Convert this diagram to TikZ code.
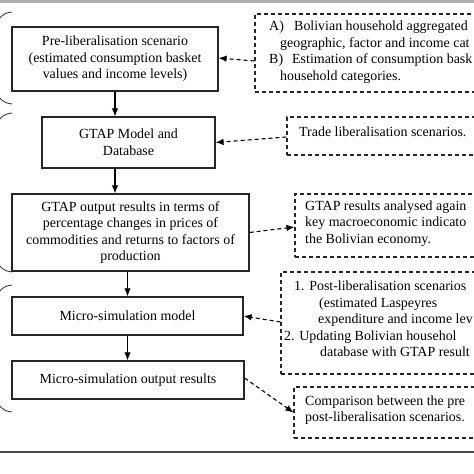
\documentclass[tikz,border=0pt]{standalone}
\usepackage{fontspec}
\setmainfont{Liberation Serif}
\usetikzlibrary{arrows.meta,calc}
\tikzset{
  base/.style={font=\fontsize{14}{16.6}\selectfont},
  solidbox/.style={base, draw=black!85, line width=1.2bp, fill=white, align=center, inner sep=0pt},
  dashbox/.style={draw=black!85, line width=1.1bp, dash pattern=on 4bp off 3bp, inner sep=0pt},
  txt/.style={base, align=left, inner sep=0pt, anchor=west},
  flow/.style={draw=black, line width=1.1bp, -{Latex[length=8bp,width=6.5bp]}},
  dflow/.style={flow, dash pattern=on 4bp off 3bp},
  bracepart/.style={draw=black!75, line width=0.9bp},
}
\begin{document}
\begin{tikzpicture}[x=1bp,y=-1bp]
\useasboundingbox (0,0) rectangle (474,474);
\clip (0,0) rectangle (474,474);
\fill[white] (0,0) rectangle (474,474);
% frame lines of the crop
\fill[black!32] (0,0) rectangle (474,3);
\draw[black!70, line width=1.6bp] (0,452) -- (474,452);
% brace ends on the left edge
\draw[bracepart] (12,12) .. controls (6,12.5) and (2,15) .. (-1,19);
\draw[bracepart] (12,104) .. controls (6,103.5) and (2,101) .. (-1,97);
\draw[bracepart] (12,113) .. controls (6,113.5) and (2,116) .. (-1,120);
\draw[bracepart] (12,272) .. controls (6,271.5) and (2,269) .. (-1,265);
\draw[bracepart] (12,285) .. controls (6,285.5) and (2,288) .. (-1,292);
\draw[bracepart] (12,412) .. controls (6,411.5) and (2,409) .. (-1,405);
% main flow boxes
\node[solidbox, minimum width=206bp, minimum height=64bp] (b1) at (115,59)
  {Pre-liberalisation scenario\\(estimated consumption basket\\values and income levels)};
\node[solidbox, minimum width=173bp, minimum height=51bp] (b2) at (128.5,142.5)
  {GTAP Model and\\Database};
\node[solidbox, minimum width=237bp, minimum height=77bp] (b3) at (130.5,232.5)
  {GTAP output results in terms of\\percentage changes in prices of\\commodities and returns to factors of\\production};
\node[solidbox, minimum width=231bp, minimum height=38bp] (b4) at (127.5,316)
  {Micro-simulation model};
\node[solidbox, minimum width=232bp, minimum height=38bp] (b5) at (128,380)
  {Micro-simulation output results};
% dashed side boxes (they run on past the right edge of the crop)
\node[dashbox, minimum width=265bp, minimum height=78bp] (d1) at (387.5,53) {};
\node[dashbox, minimum width=233bp, minimum height=38bp] (d2) at (403.5,136) {};
\node[dashbox, minimum width=225bp, minimum height=63bp] (d3) at (407.5,225.5) {};
\node[dashbox, minimum width=239bp, minimum height=102bp] (d4) at (400.5,323) {};
\node[dashbox, minimum width=226bp, minimum height=51bp] (d5) at (407,412.5) {};
% texts of dashed boxes
\node[txt] (t1) at (269,52)
  {\makebox[25bp][l]{A)}Bolivian household aggregated\\
   \hspace*{11bp}geographic, factor and income cat\\
   \makebox[23bp][l]{B)}Estimation of consumption bask\\
   \hspace*{11bp}household categories.};
\node[txt] (t2) at (299,132) {Trade liberalisation scenarios.};
\node[txt] (t3) at (305,223.5)
  {GTAP results analysed again\\key macroeconomic indicato\\the Bolivian economy.};
\node[txt] (t4) at (284,319)
  {\hspace*{10bp}1. Post-liberalisation scenarios\\
   \hspace*{35bp}(estimated Laspeyres\\
   \hspace*{34bp}expenditure and income lev\\
   2. Updating Bolivian househol\\
   \hspace*{36bp}database with GTAP result};
\node[txt] (t5) at (305,410)
  {Comparison between the pre\\post-liberalisation scenarios.};
% solid connectors
\draw[flow] (b1.south) -- (b1.south |- b2.north);
\draw[flow] (b2.south -| b1.south) -- (b1.south |- b3.north);
\draw[flow] (b4.north |- b3.south) -- (b4.north);
\draw[flow] (b4.south) -- (b4.south |- b5.north);
% dashed connectors
\draw[dflow] ($(d1.west)+(0,8)$) -- ($(b1.east)+(0,-1)$);
\draw[dflow] ($(d2.west)+(0,1)$) -- (b2.east);
\draw[dflow] (b3.east) -- ($(d3.west)+(0,1.5)$);
\draw[dflow] ($(d4.west)+(0,-1)$) -- (b4.east);
\draw[dflow] ($(b5.east)+(0,-2)$) -- (d5.west);
\end{tikzpicture}
\end{document}
